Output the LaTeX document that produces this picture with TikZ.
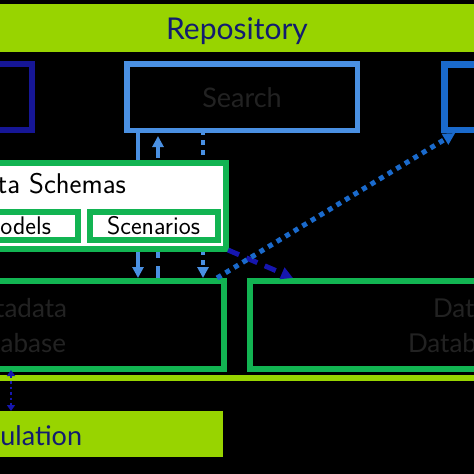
\documentclass[tikz,border=0pt]{standalone}
\usepackage{fontspec}
\setmainfont{Lato}
\usetikzlibrary{arrows.meta}
\definecolor{lime}{RGB}{152,212,0}
\definecolor{navy}{RGB}{18,28,112}
\definecolor{lblue}{RGB}{74,144,226}
\definecolor{dblue}{RGB}{22,22,150}
\definecolor{mblue}{RGB}{26,106,204}
\definecolor{sgreen}{RGB}{18,180,82}
\definecolor{arrdblue}{RGB}{22,22,175}
\definecolor{dimtext}{RGB}{34,34,34}
\tikzset{
  box/.style={draw, inner sep=0pt, outer sep=0pt},
  band/.style={fill=lime, inner sep=0pt, outer sep=0pt},
  lbl/.style={inner sep=0pt, outer sep=0pt},
  bigtip/.style={-{Triangle[length=11pt,width=11pt]}},
}
\begin{document}
\begin{tikzpicture}[x=1pt,y=-1pt]
\useasboundingbox (0,0) rectangle (474,474);
\clip (0,0) rectangle (474,474);
\fill[black] (-5,-5) rectangle (479,479);

% bands
\node[band, minimum width=494pt, minimum height=48pt] (repoband) at (237,28) {};
\node[lbl, anchor=base, text=navy, font=\fontsize{30}{36}\selectfont] (repotext) at (237,39) {Repository};
\node[band, minimum width=343pt, minimum height=46pt] (simband) at (51.5,434) {};
\node[lbl, anchor=base east, text=navy, font=\fontsize{27}{32}\selectfont] (simtext) at (82,445) {Simulation};
\fill[lime] (-10,375) rectangle (484,381);

% top row boxes
\node[box, draw=dblue, line width=6pt, minimum width=89pt, minimum height=66pt] (leftbox) at (-12.5,97) {};
\node[box, draw=lblue, line width=5.5pt, minimum width=230.5pt, minimum height=66.5pt] (search) at (242,97) {};
\node[lbl, anchor=base, text=dimtext, font=\fontsize{27}{32}\selectfont] (searchtext) at (242,107) {Search};
\node[box, draw=mblue, line width=6.5pt, minimum width=112.5pt, minimum height=65.5pt] (rightbox) at (500.5,97) {};

% databases
\node[box, draw=sgreen, line width=6pt, minimum width=341pt, minimum height=88pt] (mdb) at (53.5,325) {};
\node[lbl, anchor=base east, text=dimtext, font=\fontsize{26}{31}\selectfont] (mdbt1) at (67,317) {Metadata};
\node[lbl, anchor=base east, text=dimtext, font=\fontsize{26}{31}\selectfont] (mdbt2) at (66,352) {Database};
\node[box, draw=sgreen, line width=6pt, minimum width=347pt, minimum height=88pt] (ddb) at (423.5,325) {};
\node[lbl, anchor=base west, text=dimtext, font=\fontsize{26}{31}\selectfont] (ddbt1) at (433,317) {Data};
\node[lbl, anchor=base west, text=dimtext, font=\fontsize{26}{31}\selectfont] (ddbt2) at (408,352) {Database};

% connectors between Search and Metadata Database
\draw[lblue, line width=4pt, bigtip] ([xshift=11.25pt]search.south west) -- ([xshift=255pt,yshift=3pt]mdb.north west);
\draw[lblue, line width=4pt, dash pattern=on 12pt off 8pt, bigtip] ([xshift=275pt,yshift=3pt]mdb.north west) -- ([xshift=31.25pt,yshift=-5.75pt]search.south west);
\draw[lblue, line width=4pt, dash pattern=on 5pt off 5pt, bigtip] ([xshift=76.25pt]search.south west) -- ([xshift=320pt,yshift=3pt]mdb.north west);

% schemas box (on top of connectors)
\node[box, draw=sgreen, fill=white, line width=6pt, minimum width=343pt, minimum height=86pt] (schemas) at (54.5,206) {};
\node[lbl, anchor=base east, text=black, font=\sffamily\fontsize{28.5}{34}\selectfont] (schemastext) at (126,193) {Metadata Schemas};
\node[box, draw=sgreen, fill=white, line width=6pt, minimum width=185pt, minimum height=28pt] (models) at (-14.5,226) {};
\node[lbl, anchor=base east, text=black, font=\sffamily\fontsize{25.5}{30}\selectfont] (modelstext) at (51,234) {Models};
\node[box, draw=sgreen, fill=white, line width=6pt, minimum width=128pt, minimum height=28pt] (scen) at (154,226) {};
\node[lbl, anchor=base, text=black, font=\sffamily\fontsize{25.5}{30}\selectfont] (scentext) at (153.5,234) {Scenarios};

% other connectors
\draw[arrdblue, line width=5pt, dash pattern=on 12pt off 8pt, -{Triangle[length=12pt,width=12pt]}] ([xshift=2pt,yshift=-1pt]schemas.south east) -- ([xshift=43pt,yshift=3pt]ddb.north west);
\draw[mblue, line width=5pt, dash pattern=on 5pt off 5pt, -{Triangle[length=12pt,width=12pt]}] ([xshift=-7pt,yshift=3pt]mdb.north east) -- ([xshift=11pt,yshift=-3.25pt]rightbox.south west);
\draw[arrdblue, line width=2.5pt, dash pattern=on 2.5pt off 3pt, {Triangle[length=6pt,width=8pt]}-{Triangle[length=6pt,width=8pt]}] ([xshift=128pt,yshift=-1pt]mdb.south west) -- ([xshift=131pt]simband.north west);
\end{tikzpicture}
\end{document}
